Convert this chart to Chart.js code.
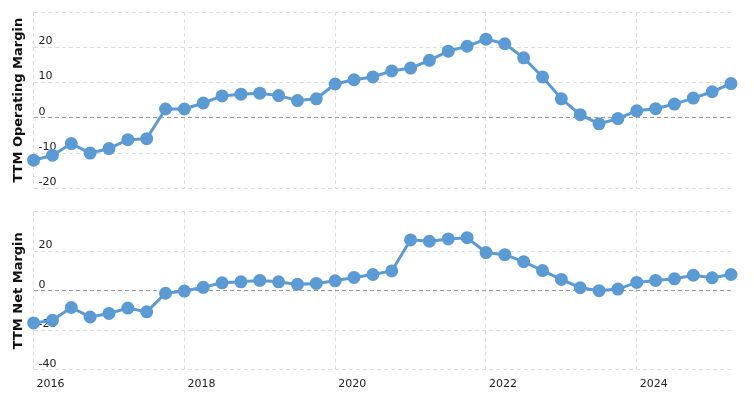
<!DOCTYPE html>
<html>
<head>
<meta charset="utf-8">
<script src="https://cdn.jsdelivr.net/npm/chart.js@4/dist/chart.umd.min.js"></script>
<style>
  body { margin: 0; background: #fff; }
  .wrap { position: absolute; left: 0; width: 754px; }
</style>
</head>
<body>
<div class="wrap" style="top:0;height:200px"><canvas id="operating_margin"></canvas></div>
<div class="wrap" style="top:200px;height:196px"><canvas id="net_margin"></canvas></div>
<script>
  'use strict';

  // quarter end dates, Dec 2015 .. Mar 2025
  var quarters = ['2015-12','2016-03','2016-06','2016-09','2016-12','2017-03','2017-06','2017-09','2017-12',
    '2018-03','2018-06','2018-09','2018-12','2019-03','2019-06','2019-09','2019-12',
    '2020-03','2020-06','2020-09','2020-12','2021-03','2021-06','2021-09','2021-12',
    '2022-03','2022-06','2022-09','2022-12','2023-03','2023-06','2023-09','2023-12',
    '2024-03','2024-06','2024-09','2024-12','2025-03'];

  var operatingMargin = [-12.0,-10.6,-7.3,-10.0,-8.7,-6.2,-5.9,2.5,2.5,
    4.2,6.2,6.7,7.0,6.3,4.9,5.4,9.6,
    10.8,11.6,13.3,14.1,16.3,18.9,20.3,22.3,
    21.0,17.0,11.6,5.4,0.9,-1.7,-0.2,2.0,
    2.6,3.9,5.6,7.4,9.7];

  var netMargin = [-16.3,-15.0,-8.5,-13.3,-11.5,-8.8,-10.7,-1.3,-0.2,
    1.7,4.0,4.5,5.2,4.5,3.2,3.7,5.0,
    6.7,8.2,10.0,25.7,25.0,26.2,26.8,19.3,
    18.2,14.7,10.2,5.7,1.5,0.0,0.8,4.2,
    5.2,6.0,7.8,6.5,8.2];

  var yearTicks = [2016, 2018, 2020, 2022, 2024];
  var operatingTicks = [-20, -10, 0, 10, 20, 30];
  var netTicks = [-40, -20, 0, 20, 40];

  var lineColor = '#5b9bd5';

  // '2015-12' -> 2016.0, '2016-03' -> 2016.25
  function toYear(q) {
    var p = q.split('-');
    return Number(p[0]) + Number(p[1]) / 12;
  }

  function points(values) {
    return values.map(function (v, i) { return { x: toYear(quarters[i]), y: v }; });
  }

  function gridColor(ctx) {
    return ctx.tick && ctx.tick.value === 0 ? '#9a9a9a' : '#dedede';
  }

  function makeChart(id, label, values, yTicks, showYears, padding) {
    var yMin = yTicks[0], yMax = yTicks[yTicks.length - 1];
    return new Chart(document.getElementById(id), {
      type: 'line',
      data: {
        datasets: [{
          label: label,
          data: points(values),
          borderColor: lineColor,
          backgroundColor: lineColor,
          pointBackgroundColor: lineColor,
          pointBorderColor: lineColor,
          borderWidth: 3,
          pointRadius: 5,
          pointHoverRadius: 5,
          tension: 0,
          clip: false
        }]
      },
      options: {
        responsive: true,
        maintainAspectRatio: false,
        animation: false,
        layout: { padding: padding },
        plugins: { legend: { display: false }, tooltip: { enabled: false } },
        scales: {
          x: {
            type: 'linear',
            min: toYear(quarters[0]),
            max: toYear(quarters[quarters.length - 1]),
            afterBuildTicks: function (scale) {
              scale.ticks = yearTicks.map(function (v) { return { value: v }; });
            },
            border: { display: false, dash: [4, 3] },
            grid: { color: '#dedede', drawTicks: false },
            ticks: {
              display: showYears,
              align: 'start',
              labelOffset: 3,
              padding: 8,
              color: '#222',
              font: { family: 'DejaVu Sans', size: 11 },
              callback: function (v) { return String(v); }
            }
          },
          y: {
            min: yMin,
            max: yMax,
            afterBuildTicks: function (scale) {
              scale.ticks = yTicks.map(function (v) { return { value: v }; });
            },
            border: { display: false, dash: [4, 3] },
            grid: { color: gridColor, drawTicks: false },
            title: {
              display: true,
              text: label,
              color: '#111',
              font: { family: 'DejaVu Sans', size: 13, weight: 'bold' },
              padding: { top: 0, bottom: -3 }
            },
            ticks: {
              mirror: true,
              padding: 5,
              labelOffset: -6,
              color: '#222',
              font: { family: 'DejaVu Sans', size: 11 },
              callback: function (v) { return v === yMax ? '' : String(v); }
            }
          }
        }
      }
    });
  }

  var opChart = makeChart('operating_margin', 'TTM Operating Margin', operatingMargin, operatingTicks, false,
    { left: 11, right: 23, top: 12, bottom: 8 });
  var netChart = makeChart('net_margin', 'TTM Net Margin', netMargin, netTicks, true,
    { left: 11, right: 23, top: 5, bottom: -3 });
</script>
</body>
</html>
